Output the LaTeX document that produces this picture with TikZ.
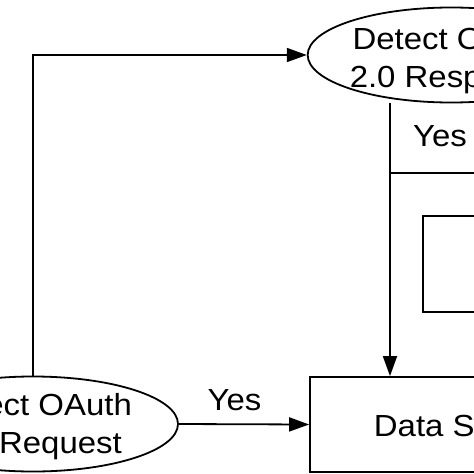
\documentclass[tikz,border=0pt]{standalone}
\usepackage{fontspec}
\setmainfont{Liberation Sans}[FakeStretch=1.08]
\usetikzlibrary{arrows.meta,shapes.geometric}
\begin{document}
\begin{tikzpicture}[x=1pt,y=-1pt,
  txt/.style={font=\fontsize{30.5}{37.5}\selectfont},
  lbl/.style={txt, inner sep=0},
  oval/.style={draw, ellipse, line width=1.8pt, minimum height=95pt, inner sep=0, align=center, text depth=0pt, txt},
  box/.style={draw, rectangle, line width=1.8pt, inner sep=0, txt},
  conn/.style={line width=1.8pt},
  arr/.style={conn, -{Triangle[length=20pt,width=14pt]}}]
\useasboundingbox (0,0) rectangle (474,474);
\clip (0,0) rectangle (474,474);
\node[oval, minimum width=283pt, text height=64.4pt] (top) at (451.4,55) {Detect OAuth\\2.0 Response};
\node[oval, minimum width=290pt, text height=58.6pt] (bot) at (33,424) {Detect OAuth\\2.0 Request};
\node[box, minimum width=322pt, minimum height=95pt, text height=23pt, text depth=0pt] (data) at (471,424.5) {Data Storage};
\node[box, minimum width=200pt, minimum height=96pt] (inner) at (523,264) {};
\draw[arr] (bot.north) |- (top.west);
\draw[arr] (bot.east) -- (data.west);
\coordinate (v1) at (390,103);
\draw[arr] (v1) -- (v1 |- data.north);
\coordinate (j) at (390,173);
\coordinate (jr) at (490,173);
\draw[conn] (j) -- (jr);
\node[lbl, anchor=base] (yes1) at (440,146.7) {Yes};
\node[lbl, anchor=base] (yes2) at (234.5,410) {Yes};
\end{tikzpicture}
\end{document}
